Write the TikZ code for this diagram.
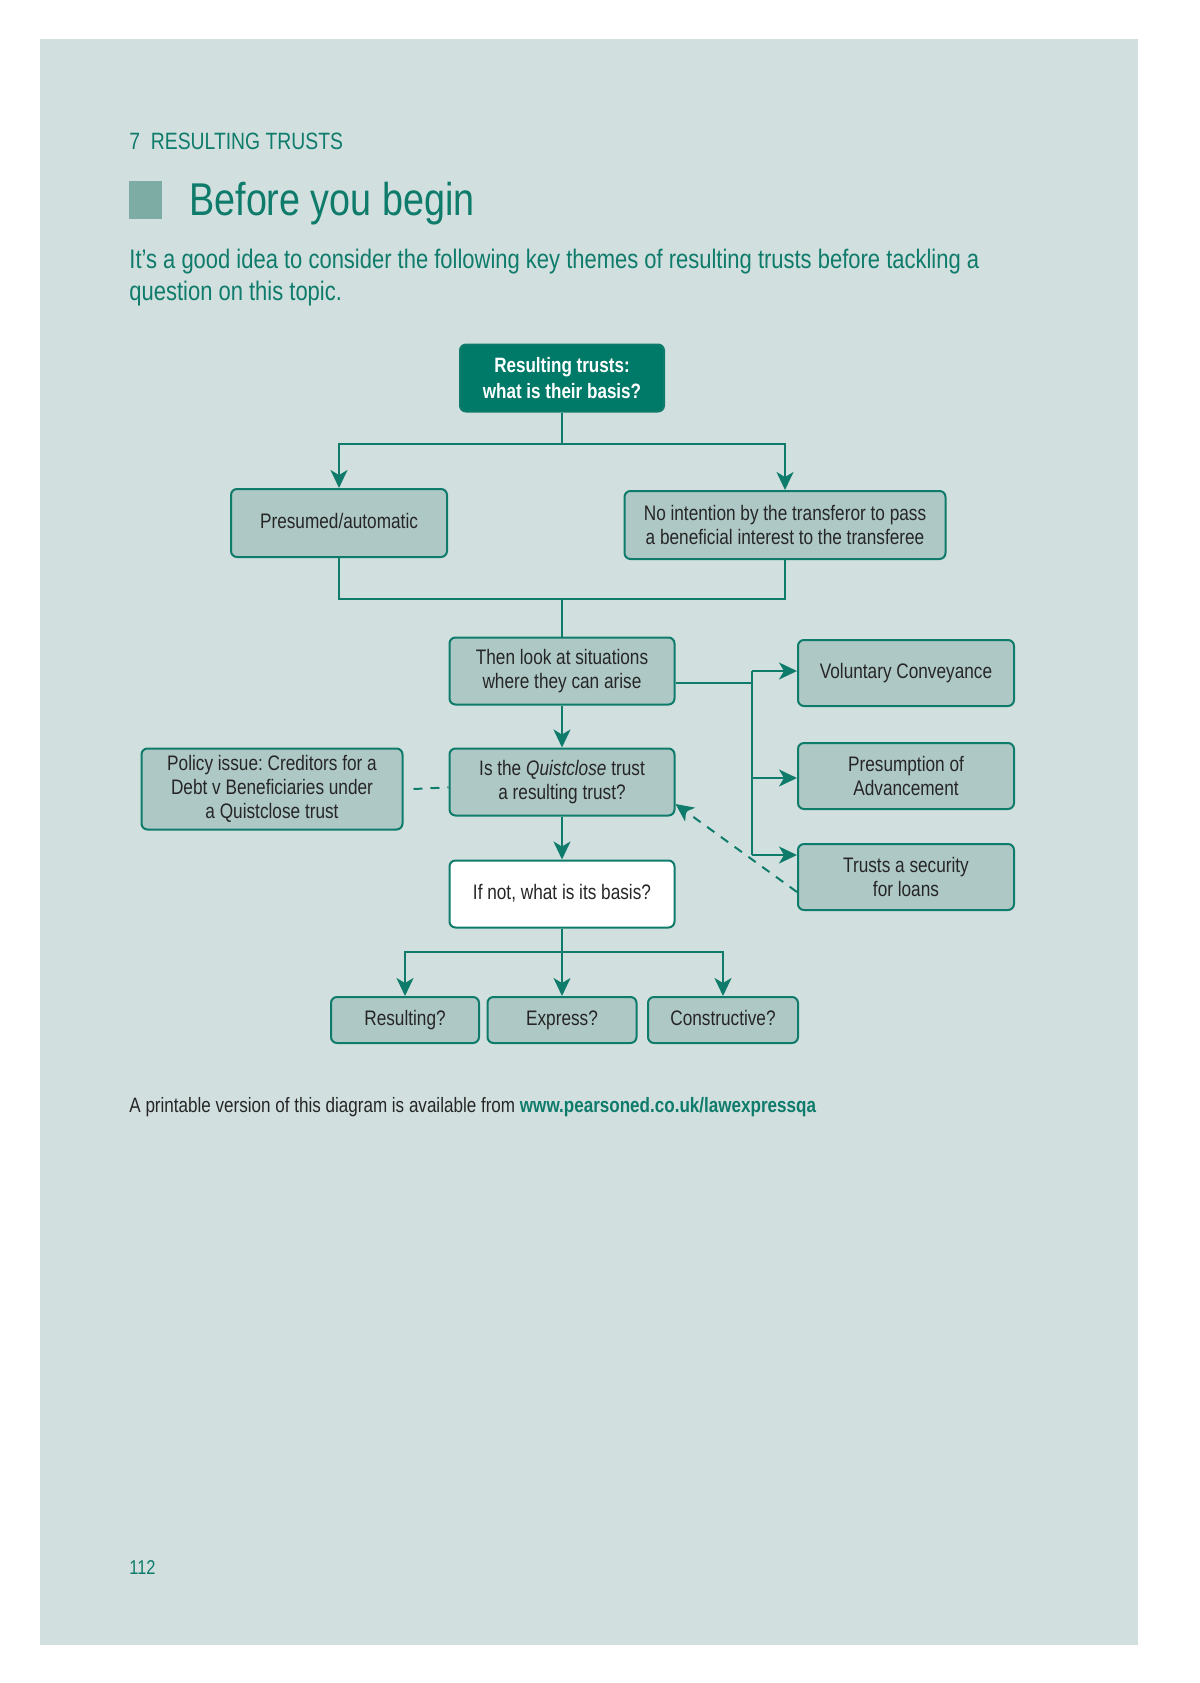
\documentclass[tikz,border=0pt]{standalone}
\usepackage{fontspec}
\setmainfont{Liberation Sans}[FakeStretch=0.82]
\usetikzlibrary{arrows.meta,positioning}
\definecolor{pagebg}{HTML}{D1E0DF}
\definecolor{boxfill}{HTML}{AEC8C6}
\definecolor{tealline}{HTML}{0E7B6B}
\definecolor{tealdark}{HTML}{007A68}
\definecolor{tealsq}{HTML}{7DACA4}
\definecolor{textdark}{HTML}{262626}
\begin{document}
\frenchspacing
\begin{tikzpicture}[x=0.5pt,y=-0.5pt,
	box/.style={draw=tealline,line width=1pt,fill=boxfill,rounded corners=3pt,align=center,text=textdark,inner sep=2pt,font=\fontsize{10.5}{12}\selectfont},
	oneline/.style={text height=7.6pt,text depth=2.4pt},
	link/.style={draw=tealline,line width=1pt},
	arr/.style={link,-{Stealth[length=9pt,width=8.5pt,inset=2.5pt]}},
	dashlink/.style={link,dashed,dash pattern=on 4.5pt off 4pt}]
			\useasboundingbox (0,0) rectangle (1200,1683);
			\fill[pagebg] (40,39) rectangle (1138,1645);
			% page heading
			\node[anchor=base west,inner sep=0pt,text=tealline,font=\fontsize{11.8}{14}\selectfont] (chapter) at (129,149) {7\ \ RESULTING TRUSTS};
			\fill[tealsq] (129,181) rectangle (162,219);
			\node[anchor=base west,inner sep=0pt,text=tealline,font=\fontsize{23}{26}\selectfont] (title) at (189,215) {Before you begin};
			\node[anchor=base west,inner sep=0pt,align=left,text=tealline,font=\fontsize{13.4}{16}\selectfont] (intro) at (129,300) {It's a good idea to consider the following key themes of resulting trusts before tackling a\\question on this topic.};
			% boxes
			\node[box,fill=tealdark,text=white,font=\bfseries\fontsize{10.4}{13}\selectfont,minimum width=102pt,minimum height=33.5pt] (basis) at (562,378) {Resulting trusts:\\what is their basis?};
			\node[box,oneline,minimum width=108pt,minimum height=34pt] (presumed) at (339,523) {Presumed/automatic};
			\node[box,minimum width=160.5pt,minimum height=34pt] (nointent) at (785,525) {No intention by the transferor to pass\\a beneficial interest to the transferee};
			\node[box,minimum width=112.5pt,minimum height=33.5pt] (situations) at (562,671) {Then look at situations\\where they can arise};
			\node[box,oneline,minimum width=108pt,minimum height=33pt] (voluntary) at (906,673) {Voluntary Conveyance};
			\node[box,minimum width=108pt,minimum height=33pt] (advancement) at (906,776) {Presumption of\\Advancement};
			\node[box,minimum width=108pt,minimum height=33pt] (security) at (906,877) {Trusts a security\\for loans};
			\node[box,minimum width=112.5pt,minimum height=33.5pt] (quistclose) at (562,782) {Is the \textit{Quistclose} trust\\a resulting trust?};
			\node[box,minimum width=130.5pt,minimum height=40.5pt] (policy) at (272,789) {Policy issue: Creditors for a\\Debt v Beneficiaries under\\a Quistclose trust};
			\node[box,oneline,fill=white,minimum width=112.5pt,minimum height=33.5pt] (ifnot) at (562,894) {If not, what is its basis?};
			\node[box,oneline,minimum width=74pt,minimum height=23pt] (resulting) at (405,1020) {Resulting?};
			\node[box,oneline,minimum width=74.5pt,minimum height=23pt] (express) at (562,1020) {Express?};
			\node[box,oneline,minimum width=75pt,minimum height=23pt] (constructive) at (723,1020) {Constructive?};
			% connectors
			\coordinate (split) at (562,444);
			\coordinate (join) at (562,599);
			\coordinate (bus) at (752,683);
			\coordinate (busTop) at (752,671);
			\coordinate (busMid) at (752,778);
			\coordinate (busBot) at (752,855);
			\coordinate (fork) at (562,952);
			\draw[link] (basis) -- (split);
			\draw[arr] (split) -| (presumed);
			\draw[arr] (split) -| (nointent);
			\draw[link] (presumed) |- (join) -| (nointent);
			\draw[link] (join) -- (situations);
			\draw[link] (situations.east |- bus) -- (bus);
			\draw[link] (busTop) -- (busBot);
			\draw[arr] (busTop) -- (voluntary.west |- busTop);
			\draw[arr] (busMid) -- (advancement.west |- busMid);
			\draw[arr] (busBot) -- (security.west |- busBot);
			\draw[arr] (situations) -- (quistclose);
			\draw[arr] (quistclose) -- (ifnot);
			\draw[link] (ifnot) -- (fork);
			\draw[arr] (fork) -| (resulting);
			\draw[arr] (fork) -- (express);
			\draw[arr] (fork) -| (constructive);
			\draw[dashlink] ([xshift=5pt]policy.east) -- (quistclose);
			\draw[dashlink,-{Stealth[length=9pt,width=8.5pt,inset=2.5pt]}] ([yshift=-7.5pt]security.west) -- ([yshift=-11pt]quistclose.east);
			% footer
			\node[anchor=base west,inner sep=0pt,text=textdark,font=\fontsize{10.4}{12}\selectfont] (printable) at (129,1112) {A printable version of this diagram is available from \textcolor{tealline}{\bfseries www.pearsoned.co.uk/lawexpressqa}};
			\node[anchor=base west,inner sep=0pt,text=tealline,font=\fontsize{10}{12}\selectfont] (pagenum) at (129,1574) {112};
		\end{tikzpicture}
\end{document}
